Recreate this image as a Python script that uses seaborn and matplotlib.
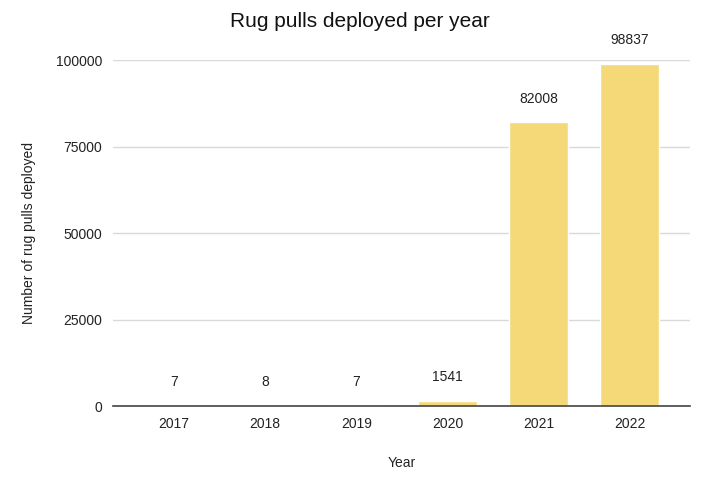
import matplotlib
matplotlib.use("Agg")
import matplotlib.pyplot as plt
import seaborn as sns
import pandas as pd

years = ["2017", "2018", "2019", "2020", "2021", "2022"]
counts = [7, 8, 7, 1541, 82008, 98837]
yticks = [0, 25000, 50000, 75000, 100000]

sns.set_theme(style="white")
plt.rcParams['font.family'] = ['Liberation Sans', 'DejaVu Sans']

df = pd.DataFrame({"Year": years, "Count": counts})

fig = plt.figure(figsize=(7.2, 4.8), dpi=100)
ax = fig.add_axes([0.157, 0.154, 0.801, 0.721])
sns.barplot(data=df, x="Year", y="Count", color="#F5D979", saturation=1, width=0.64, ax=ax, zorder=3)

ax.set_xlim(-0.67, 5.66)
ax.set_ylim(0, 100000)
ax.set_yticks(yticks)
ax.set_yticklabels([str(t) for t in yticks], fontsize=10, color="#222222")
ax.tick_params(axis="x", labelsize=10, colors="#222222", length=0, pad=8)
ax.tick_params(axis="y", length=0, pad=8)
ax.grid(axis="y", color="#d9d9d9", linewidth=1, zorder=0)
for s in ["top", "right", "left"]:
    ax.spines[s].set_visible(False)
ax.spines["bottom"].set_color("#444444")
ax.spines["bottom"].set_linewidth(1.2)
ax.spines["bottom"].set_zorder(4)

for i, v in enumerate(counts):
    ax.annotate(str(v), (i, v), xytext=(0, 12), textcoords="offset points",
                ha="center", va="bottom", fontsize=10, color="#222222")

ax.set_xlabel("Year", fontsize=10, color="#222222", labelpad=18)
ax.set_ylabel("Number of rug pulls deployed", fontsize=10, color="#222222", labelpad=14)
fig.suptitle("Rug pulls deployed per year", fontsize=15, color="#111111", y=0.975)

fig.savefig("out.png", dpi=100, facecolor="white")
